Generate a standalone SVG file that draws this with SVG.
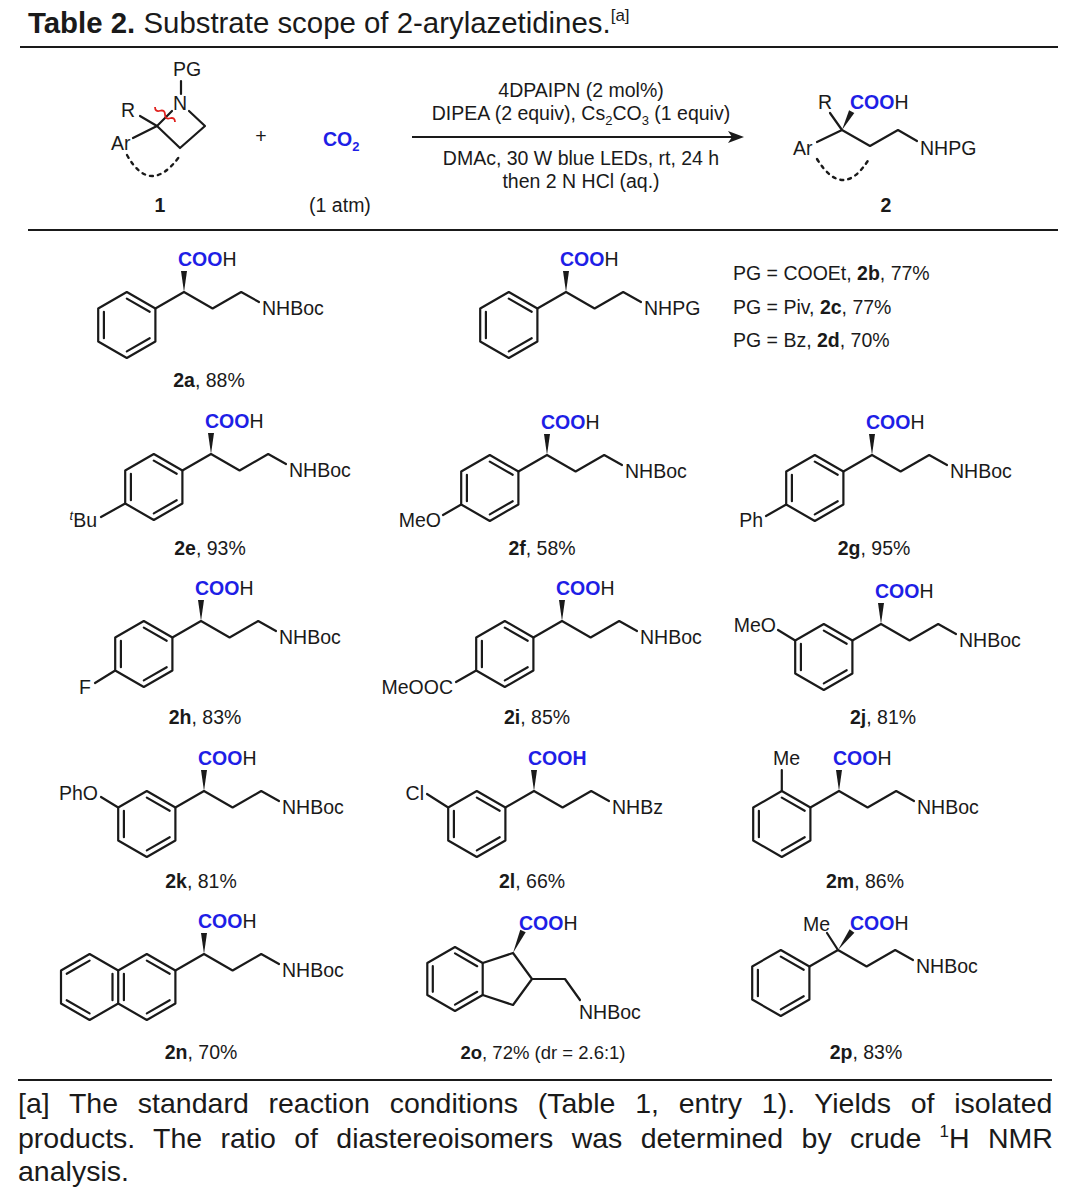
<svg xmlns="http://www.w3.org/2000/svg" width="1080" height="1199" viewBox="0 0 1080 1199">
<style>
.t{font-family:"Liberation Sans",Arial,sans-serif;font-size:19.5px;fill:#1a1a1a}
.b{font-weight:bold}
.bl{font-weight:bold;fill:#1e1ee6}
.bd{fill:none;stroke:#1a1a1a;stroke-width:2.2;stroke-linejoin:round;stroke-linecap:round}
.w{fill:#1a1a1a}
.ds{fill:none;stroke:#1a1a1a;stroke-width:2.4;stroke-dasharray:3 5;stroke-linecap:round}
.rule{stroke:#1a1a1a;stroke-width:2}
.big{font-family:"Liberation Sans",Arial,sans-serif;font-size:28.5px;fill:#1a1a1a}
</style>
<defs>
<g id="ring">
<polygon class="bd" points="-57.2,0 -28.6,16.5 -28.6,49.5 -57.2,66 -85.8,49.5 -85.8,16.5"/>
<path class="bd" d="M-57.2,6.6 L-34.3,19.8 M-34.3,46.2 L-57.2,59.4 M-80.1,46.2 L-80.1,19.8"/>
</g>
<polyline id="chain" class="bd" points="-28.6,16.5 0,0 28.6,16.5 57.2,0 75,10"/>
<polygon id="wedge" class="w" points="0,0 -3,-21 3,-21"/>
<marker id="ah" markerWidth="16" markerHeight="12" refX="12" refY="6" orient="auto" markerUnits="userSpaceOnUse">
<path d="M0,0 L16,6 L0,12 L4,6 Z" fill="#1a1a1a"/>
</marker>
</defs>
<rect width="1080" height="1199" fill="#fff"/>

<g id="title">
<text class="big" x="28" y="33" style="font-size:29.4px"><tspan class="b">Table 2.</tspan> Substrate scope of 2-arylazetidines.<tspan style="font-size:17px" dy="-12">[a]</tspan></text>
</g>
<g id="rules">
<line class="rule" x1="20" y1="47" x2="1058" y2="47"/>
<line class="rule" x1="28" y1="230" x2="1058" y2="230"/>
<line class="rule" x1="18" y1="1080" x2="1052" y2="1080"/>
</g>

<g id="c1">
<text class="t" x="187" y="76" text-anchor="middle">PG</text>
<line class="bd" x1="181" y1="81" x2="181" y2="94"/>
<text class="t" x="173" y="110">N</text>
<path class="bd" d="M157,126 L172,111 M189,111 L205,126 L180,148 L157,126 M140,116 L157,126 L133,138"/>
<text class="t" x="121" y="117">R</text>
<text class="t" x="111" y="150">Ar</text>
<path class="ds" d="M127,155 Q150,196 179,157"/>
<path d="M155,107 q0.1,5.1 5,3.75 q4.9,-1.3 5,3.75 q0.1,5.1 5,3.75 q4.9,-1.3 5,3.75" fill="none" stroke="#e0201c" stroke-width="1.8"/>
<text class="t b" x="160" y="212" text-anchor="middle">1</text>
</g>

<g id="plus">
<text class="t" x="261" y="143" text-anchor="middle" font-size="17">+</text>
</g>

<g id="co2">
<text class="t" x="323" y="146"><tspan class="bl">CO</tspan><tspan class="bl" font-size="13" dy="5">2</tspan></text>
<text class="t" x="340" y="212" text-anchor="middle">(1 atm)</text>
</g>

<g id="conditions">
<text class="t" x="581" y="97" text-anchor="middle">4DPAIPN (2 mol%)</text>
<text class="t" x="581" y="120" text-anchor="middle">DIPEA (2 equiv), Cs<tspan font-size="13" dy="5">2</tspan><tspan dy="-5">CO</tspan><tspan font-size="13" dy="5">3</tspan><tspan dy="-5"> (1 equiv)</tspan></text>
<text class="t" x="581" y="165" text-anchor="middle">DMAc, 30 W blue LEDs, rt, 24 h</text>
<text class="t" x="581" y="188" text-anchor="middle">then 2 N HCl (aq.)</text>
</g>

<g id="connectors">
<line x1="412" y1="137" x2="740" y2="137" stroke="#1a1a1a" stroke-width="1.8" marker-end="url(#ah)"/>
</g>

<g id="c2">
<text class="t" x="818" y="109">R</text>
<text class="t" x="850" y="109"><tspan class="bl">COO</tspan>H</text>
<path class="bd" d="M830,113 L842,130 L817,142 M842,130 L870,146 L898,130 L917,141"/>
<polygon class="w" points="842,130 854.3,113.1 849.1,110.3"/>
<text class="t" x="793" y="155">Ar</text>
<text class="t" x="920" y="155">NHPG</text>
<path class="ds" d="M817,159 Q843,201 869,159"/>
<text class="t b" x="886" y="212" text-anchor="middle">2</text>
</g>

<g id="c2a" transform="translate(184,292)">
<use href="#ring"/><use href="#chain"/><use href="#wedge"/>
<text class="t" x="-6" y="-26"><tspan class="bl">COO</tspan>H</text>
<text class="t" x="78" y="23">NHBoc</text>
<text class="t" x="25" y="95" text-anchor="middle"><tspan class="b">2a</tspan>, 88%</text>
</g>

<g id="c2bcd" transform="translate(566,292)">
<use href="#ring"/><use href="#chain"/><use href="#wedge"/>
<text class="t" x="-6" y="-26"><tspan class="bl">COO</tspan>H</text>
<text class="t" x="78" y="23">NHPG</text>
</g>
<g id="pg-list">
<text class="t" x="733" y="280">PG = COOEt, <tspan class="b">2b</tspan>, 77%</text>
<text class="t" x="733" y="314">PG = Piv, <tspan class="b">2c</tspan>, 77%</text>
<text class="t" x="733" y="347">PG = Bz, <tspan class="b">2d</tspan>, 70%</text>
</g>

<g id="c2e" transform="translate(211,454)">
<use href="#ring"/><use href="#chain"/><use href="#wedge"/>
<text class="t" x="-6" y="-26"><tspan class="bl">COO</tspan>H</text>
<text class="t" x="78" y="23">NHBoc</text>
<line class="bd" x1="-85.8" y1="49.5" x2="-110" y2="63"/>
<text class="t" x="-114" y="73" text-anchor="end"><tspan font-style="italic" font-size="13" dy="-7">t</tspan><tspan dy="7">Bu</tspan></text>
<text class="t" x="-1" y="101" text-anchor="middle"><tspan class="b">2e</tspan>, 93%</text>
</g>

<g id="c2f" transform="translate(547,455)">
<use href="#ring"/><use href="#chain"/><use href="#wedge"/>
<text class="t" x="-6" y="-26"><tspan class="bl">COO</tspan>H</text>
<text class="t" x="78" y="23">NHBoc</text>
<line class="bd" x1="-85.8" y1="49.5" x2="-104" y2="60"/>
<text class="t" x="-106" y="72" text-anchor="end">MeO</text>
<text class="t" x="-5" y="100" text-anchor="middle"><tspan class="b">2f</tspan>, 58%</text>
</g>

<g id="c2g" transform="translate(872,455)">
<use href="#ring"/><use href="#chain"/><use href="#wedge"/>
<text class="t" x="-6" y="-26"><tspan class="bl">COO</tspan>H</text>
<text class="t" x="78" y="23">NHBoc</text>
<line class="bd" x1="-85.8" y1="49.5" x2="-106" y2="61"/>
<text class="t" x="-109" y="72" text-anchor="end">Ph</text>
<text class="t" x="2" y="100" text-anchor="middle"><tspan class="b">2g</tspan>, 95%</text>
</g>

<g id="c2h" transform="translate(201,621)">
<use href="#ring"/><use href="#chain"/><use href="#wedge"/>
<text class="t" x="-6" y="-26"><tspan class="bl">COO</tspan>H</text>
<text class="t" x="78" y="23">NHBoc</text>
<line class="bd" x1="-85.8" y1="49.5" x2="-106" y2="62"/>
<text class="t" x="-110" y="73" text-anchor="end">F</text>
<text class="t" x="4" y="103" text-anchor="middle"><tspan class="b">2h</tspan>, 83%</text>
</g>

<g id="c2i" transform="translate(562,621)">
<use href="#ring"/><use href="#chain"/><use href="#wedge"/>
<text class="t" x="-6" y="-26"><tspan class="bl">COO</tspan>H</text>
<text class="t" x="78" y="23">NHBoc</text>
<line class="bd" x1="-85.8" y1="49.5" x2="-106" y2="61"/>
<text class="t" x="-109" y="73" text-anchor="end">MeOOC</text>
<text class="t" x="-25" y="103" text-anchor="middle"><tspan class="b">2i</tspan>, 85%</text>
</g>

<g id="c2j" transform="translate(881,624)">
<use href="#ring"/><use href="#chain"/><use href="#wedge"/>
<text class="t" x="-6" y="-26"><tspan class="bl">COO</tspan>H</text>
<text class="t" x="78" y="23">NHBoc</text>
<line class="bd" x1="-85.8" y1="16.5" x2="-103" y2="6"/>
<text class="t" x="-105" y="8" text-anchor="end">MeO</text>
<text class="t" x="2" y="100" text-anchor="middle"><tspan class="b">2j</tspan>, 81%</text>
</g>

<g id="c2k" transform="translate(204,791)">
<use href="#ring"/><use href="#chain"/><use href="#wedge"/>
<text class="t" x="-6" y="-26"><tspan class="bl">COO</tspan>H</text>
<text class="t" x="78" y="23">NHBoc</text>
<line class="bd" x1="-85.8" y1="16.5" x2="-103" y2="6"/>
<text class="t" x="-106" y="9" text-anchor="end">PhO</text>
<text class="t" x="-3" y="97" text-anchor="middle"><tspan class="b">2k</tspan>, 81%</text>
</g>

<g id="c2l" transform="translate(534,791)">
<use href="#ring"/><use href="#chain"/><use href="#wedge"/>
<text class="t" x="-6" y="-26"><tspan class="bl">COOH</tspan></text>
<text class="t" x="78" y="23">NHBz</text>
<line class="bd" x1="-85.8" y1="16.5" x2="-107" y2="3"/>
<text class="t" x="-110" y="9" text-anchor="end">Cl</text>
<text class="t" x="-2" y="97" text-anchor="middle"><tspan class="b">2l</tspan>, 66%</text>
</g>

<g id="c2m" transform="translate(839,791)">
<use href="#ring"/><use href="#chain"/><use href="#wedge"/>
<text class="t" x="-6" y="-26"><tspan class="bl">COO</tspan>H</text>
<text class="t" x="78" y="23">NHBoc</text>
<line class="bd" x1="-57.2" y1="0" x2="-57.2" y2="-21"/>
<text class="t" x="-66" y="-26">Me</text>
<text class="t" x="26" y="97" text-anchor="middle"><tspan class="b">2m</tspan>, 86%</text>
</g>

<g id="c2n" transform="translate(204,954)">
<use href="#ring"/><use href="#chain"/><use href="#wedge"/>
<polyline class="bd" points="-85.8,16.5 -114.4,0 -143,16.5 -143,49.5 -114.4,66 -85.8,49.5"/>
<path class="bd" d="M-91.5,19.8 L-91.5,46.2 M-137.3,19.8 L-114.4,6.6 M-137.3,46.2 L-114.4,59.4"/>
<text class="t" x="-6" y="-26"><tspan class="bl">COO</tspan>H</text>
<text class="t" x="78" y="23">NHBoc</text>
<text class="t" x="-3" y="105" text-anchor="middle"><tspan class="b">2n</tspan>, 70%</text>
</g>

<g id="c2o">
<polygon class="bd" points="455,947 482.7,963 482.7,995 455,1011 427.3,995 427.3,963"/>
<path class="bd" d="M455,953.4 L477.2,966.2 M477.2,991.8 L455,1004.6 M432.8,991.8 L432.8,966.2"/>
<polyline class="bd" points="482.7,963 513,953 532,979 513,1005 482.7,995"/>
<polyline class="bd" points="532,979 565,979 580,1000"/>
<polygon class="w" points="513,953 525.7,932.2 520.3,929.8"/>
<text class="t" x="519" y="930"><tspan class="bl">COO</tspan>H</text>
<text class="t" x="579" y="1019">NHBoc</text>
<text class="t" x="543" y="1059" text-anchor="middle" style="font-size:18.5px"><tspan class="b">2o</tspan>, 72% (dr = 2.6:1)</text>
</g>

<g id="c2p" transform="translate(838,950)">
<use href="#ring"/><use href="#chain"/>
<polygon class="w" points="0,0 16.4,-17.2 11.6,-20.8"/>
<line class="bd" x1="0" y1="0" x2="-11" y2="-17"/>
<text class="t" x="-8" y="-19" text-anchor="end">Me</text>
<text class="t" x="12" y="-20"><tspan class="bl">COO</tspan>H</text>
<text class="t" x="78" y="23">NHBoc</text>
<text class="t" x="28" y="109" text-anchor="middle"><tspan class="b">2p</tspan>, 83%</text>
</g>

<g id="footnote">
<text class="big" x="18" y="1113" style="word-spacing:11.85px">[a] The standard reaction conditions (Table 1, entry 1). Yields of isolated</text>
<text class="big" x="18" y="1148" style="word-spacing:10.4px">products. The ratio of diastereoisomers was determined by crude <tspan font-size="17" dy="-11">1</tspan><tspan dy="11">H NMR</tspan></text>
<text class="big" x="18" y="1181">analysis.</text>
</g>
</svg>
